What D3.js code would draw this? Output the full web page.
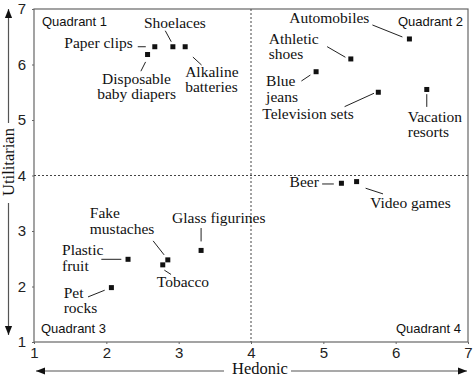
<html>
<head>
<script src="https://cdn.jsdelivr.net/npm/d3@7"></script>
<style>
  body { margin: 0; background: #fff; }
  .lbl { font-family: "Liberation Serif", "Times New Roman", serif; font-size: 15.5px; fill: #111; }
  .quad { font-family: "Liberation Sans", Arial, sans-serif; font-size: 13px; fill: #111; }
  .tick text { font-family: "Liberation Sans", Arial, sans-serif; font-size: 15px; fill: #222; }
  .title { font-family: "Liberation Serif", "Times New Roman", serif; font-size: 16.5px; fill: #111; }
</style>
</head>
<body>
<div id="chart"></div>
<script>
// products, hedonic score, utilitarian score
const products = ["Paper clips", "Disposable baby diapers", "Shoelaces", "Alkaline batteries",
  "Automobiles", "Athletic shoes", "Blue jeans", "Television sets", "Vacation resorts",
  "Beer", "Video games", "Fake mustaches", "Glass figurines", "Plastic fruit", "Tobacco", "Pet rocks"];
const hedonic = [2.67, 2.57, 2.92, 3.09, 6.19, 5.38, 4.90, 5.76, 6.43, 5.25, 5.46, 2.85, 3.31, 2.30, 2.78, 2.07];
const utilitarian = [6.32, 6.18, 6.32, 6.32, 6.46, 6.10, 5.87, 5.50, 5.55, 3.86, 3.89, 2.48, 2.65, 2.49, 2.39, 1.98];
const labelLines = [["Paper clips"], ["Disposable", "baby diapers"], ["Shoelaces"], ["Alkaline", "batteries"],
  ["Automobiles"], ["Athletic", "shoes"], ["Blue", "jeans"], ["Television sets"], ["Vacation", "resorts"],
  ["Beer"], ["Video games"], ["Fake", "mustaches"], ["Glass figurines"], ["Plastic", "fruit"], ["Tobacco"], ["Pet", "rocks"]];
const ticks = [1, 2, 3, 4, 5, 6, 7];
const quadrants = ["Quadrant 1", "Quadrant 2", "Quadrant 3", "Quadrant 4"];

// label placement relative to the point: text anchor, dx, first baseline dy, leader line
const layout = [
  {a: "end", dx: -22, dy: 1, l: [-17, 0, -9, 0]},
  {a: "middle", dx: -11, dy: 29, l: [-6.7, 16.7, -2, 7.4]},
  {a: "middle", dx: 2, dy: -19, l: [-7.6, -16, -1.6, -5]},
  {a: "start", dx: 0, dy: 30, l: [7.7, 10.3, 16.4, 18.3]},
  {a: "end", dx: -40, dy: -16, l: [-37, -14, -7, -2]},
  {a: "start", dx: -82, dy: -15, l: [-23.7, -12.3, -5.4, -1.7]},
  {a: "start", dx: -50, dy: 14.3, l: [-14.7, 9.3, -5.7, 3.3]},
  {a: "start", dx: -116, dy: 26.7, l: [-33.7, 14.4, -4.3, 1]},
  {a: "start", dx: -19, dy: 32.4, l: [0, 4.7, 0, 17.4]},
  {a: "end", dx: -22.6, dy: 3.4, l: [-19.3, 0.7, -7.6, 0.7]},
  {a: "start", dx: 13.7, dy: 26.3, l: [9, 6.6, 26.4, 12.3]},
  {a: "start", dx: -78, dy: -41.7, l: [-14.7, -19, -3.7, -5]},
  {a: "start", dx: -29, dy: -27.4, l: [0, -22.4, 0, -9]},
  {a: "start", dx: -66, dy: -4.3, l: [-26.7, 0, -6.7, 0]},
  {a: "start", dx: -6, dy: 22, l: [1.6, 5.3, 8.3, 9.6]},
  {a: "start", dx: -47.7, dy: 10, l: [-23.4, 9.3, -6.7, 2.6]}
];

const w = 474, h = 378;
const pLeft = 34, pRight = 468, pTop = 9, pBottom = 342;

const svg = d3.select("#chart").append("svg").attr("width", w).attr("height", h);

const x = d3.scaleLinear().domain([1, 7]).range([pLeft, pRight]);
const y = d3.scaleLinear().domain([1, 7]).range([pBottom, pTop]);

// frame
svg.append("rect")
  .attr("x", pLeft).attr("y", pTop)
  .attr("width", pRight - pLeft).attr("height", pBottom - pTop)
  .attr("fill", "none").attr("stroke", "#666").attr("stroke-width", 1.2);

// quadrant dividers
svg.append("line")
  .attr("x1", x(4)).attr("x2", x(4)).attr("y1", pTop).attr("y2", pBottom)
  .attr("stroke", "#444").attr("stroke-dasharray", "2,2");
svg.append("line")
  .attr("x1", pLeft).attr("x2", pRight).attr("y1", y(4)).attr("y2", y(4))
  .attr("stroke", "#444").attr("stroke-dasharray", "2,2");

const xAxis = svg.append("g")
  .attr("transform", "translate(0," + pBottom + ")")
  .call(d3.axisBottom(x).tickValues(ticks).tickFormat(d3.format("d")).tickSize(2).tickPadding(3));
const yAxis = svg.append("g")
  .attr("transform", "translate(" + pLeft + ",0)")
  .call(d3.axisLeft(y).tickValues(ticks).tickFormat(d3.format("d")).tickSize(2).tickPadding(6));
[xAxis, yAxis].forEach(g => {
  g.select(".domain").remove();
  g.selectAll(".tick line").attr("stroke", "#666");
});

// quadrant names
svg.append("text").attr("class", "quad").attr("x", 42).attr("y", 26).text(quadrants[0]);
svg.append("text").attr("class", "quad").attr("x", 463).attr("y", 26).attr("text-anchor", "end").text(quadrants[1]);
svg.append("text").attr("class", "quad").attr("x", 41).attr("y", 333).text(quadrants[2]);
svg.append("text").attr("class", "quad").attr("x", 461).attr("y", 333).attr("text-anchor", "end").text(quadrants[3]);

// arrow heads
const defs = svg.append("defs");
defs.append("marker")
  .attr("id", "arr").attr("viewBox", "0 0 10 10").attr("refX", 10).attr("refY", 5)
  .attr("markerWidth", 9).attr("markerHeight", 9).attr("markerUnits", "userSpaceOnUse")
  .attr("orient", "auto")
  .append("path").attr("d", "M0,1 L10,5 L0,9 Z").attr("fill", "#111");

function arrow(x1, y1, x2, y2) {
  svg.append("line").attr("x1", x1).attr("y1", y1).attr("x2", x2).attr("y2", y2)
    .attr("stroke", "#555").attr("stroke-width", 1.2).attr("marker-end", "url(#arr)");
}
arrow(8.5, 123, 8.5, 9);
arrow(8.5, 203, 8.5, 335);
arrow(224, 371, 36, 371);
arrow(291, 371, 467, 371);

svg.append("text").attr("class", "title")
  .attr("transform", "translate(13.5,162) rotate(-90)")
  .attr("text-anchor", "middle").text("Utilitarian");
svg.append("text").attr("class", "title")
  .attr("x", 260).attr("y", 374)
  .attr("text-anchor", "middle").text("Hedonic");

// points, leaders, labels
const pts = products.map((p, i) => ({name: p, hx: x(hedonic[i]), uy: y(utilitarian[i]), lines: labelLines[i], lay: layout[i]}));

svg.selectAll(".leader").data(pts).enter().append("line")
  .attr("x1", d => d.hx + d.lay.l[0]).attr("y1", d => d.uy + d.lay.l[1])
  .attr("x2", d => d.hx + d.lay.l[2]).attr("y2", d => d.uy + d.lay.l[3])
  .attr("stroke", "#222").attr("stroke-width", 1);

svg.selectAll(".pt").data(pts).enter().append("rect")
  .attr("x", d => d.hx - 2.5).attr("y", d => d.uy - 2.5)
  .attr("width", 5).attr("height", 5).attr("fill", "#111");

const lbl = svg.selectAll(".lbl").data(pts).enter().append("text")
  .attr("class", "lbl")
  .attr("text-anchor", d => d.lay.a);
lbl.selectAll("tspan").data(d => d.lines.map((t, k) => ({t, k, d}))).enter().append("tspan")
  .attr("x", o => o.d.hx + o.d.lay.dx)
  .attr("y", o => o.d.uy + o.d.lay.dy + o.k * 15.5)
  .text(o => o.t);
</script>
</body>
</html>
